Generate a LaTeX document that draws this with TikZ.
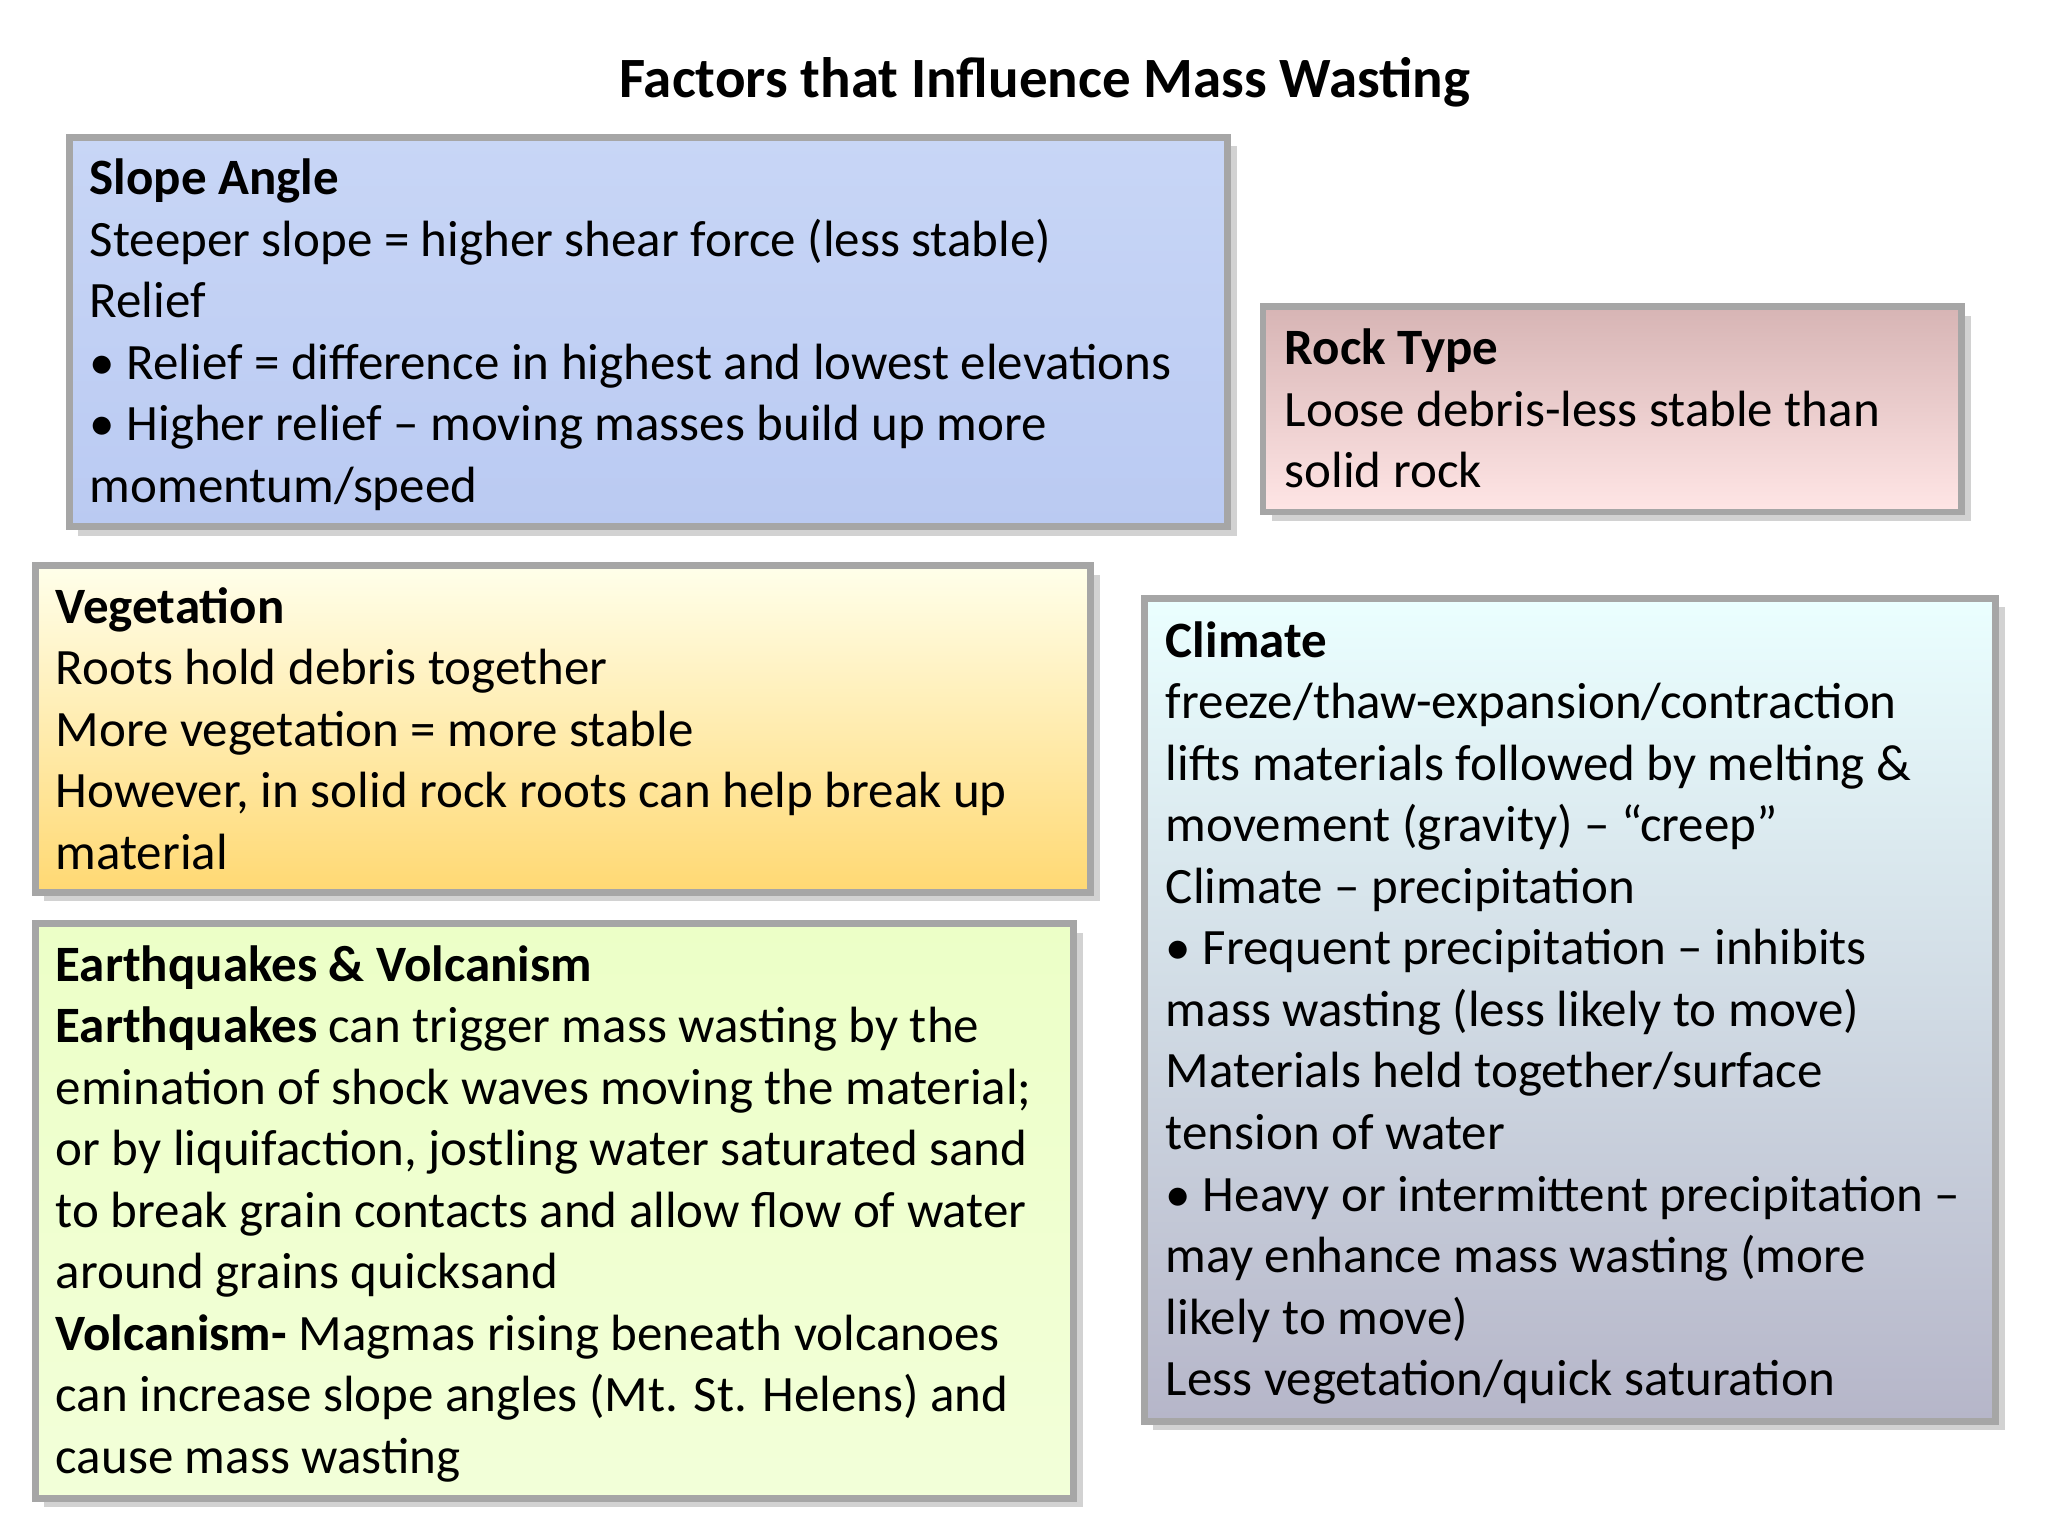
\documentclass[tikz,border=0pt]{standalone}
\usepackage{fontspec}
\setmainfont{Carlito}
\usetikzlibrary{shadows}
\definecolor{slopetop}{RGB}{200,214,246}
\definecolor{slopebot}{RGB}{186,202,242}
\tikzset{
  panel/.style={draw=gray!70, line width=1.5pt, drop shadow={shadow xshift=2pt, shadow yshift=-2pt, opacity=.35}},
  body/.style={anchor=north west, inner sep=0pt, align=left, font=\fontsize{11.1}{13.4}\selectfont},
}
\begin{document}
\begin{tikzpicture}
  \tikzset{x={(0.01cm, 0cm)}, y={(0cm, -0.01cm)}}
  \useasboundingbox[fill=white] (0,0) rectangle (1568,1176);
  \node (title) at (800,63) {\fontsize{12.4}{15}\selectfont\bfseries Factors that Influence Mass Wasting};
  % panels
  \draw[panel, top color=slopetop, bottom color=slopebot] (53,105) rectangle (940,403);
  \draw[panel, top color=red!30!gray!45, bottom color=red!10] (967,235) rectangle (1502,392);
  \draw[panel, top color=yellow!8, bottom color=yellow!45!orange!55] (27,433) rectangle (835,683);
  \draw[panel, top color=green!12!lime!22, bottom color=green!10!lime!15] (27,707) rectangle (822,1147);
  \draw[panel, top color=cyan!8, bottom color=blue!15!gray!50] (876,458) rectangle (1528,1088);
  % texts
  \node[body] (slope) at (68,121) {\textbf{Slope Angle}\\
    Steeper slope = higher shear force (less stable)\\
    Relief\\
    • Relief = difference in highest and lowest elevations\\
    • Higher relief – moving masses build up more\\
    momentum/speed};
  \node[body] (rock) at (983,251) {\textbf{Rock Type}\\
    Loose debris-less stable than\\
    solid rock};
  \node[body] (veg) at (42,449) {\textbf{Vegetation}\\
    Roots hold debris together\\
    More vegetation = more stable\\
    However, in solid rock roots can help break up\\
    material};
  \node[body] (quake) at (42,723) {\textbf{Earthquakes \& Volcanism}\\
    \textbf{Earthquakes} can trigger mass wasting by the\\
    emination of shock waves moving the material;\\
    or by liquifaction, jostling water saturated sand\\
    to break grain contacts and allow flow of water\\
    around grains quicksand\\
    \textbf{Volcanism-} Magmas rising beneath volcanoes\\
    can increase slope angles (Mt. St. Helens) and\\
    cause mass wasting};
  \node[body] (climate) at (892,475) {\textbf{Climate}\\
    freeze/thaw-expansion/contraction\\
    lifts materials followed by melting \&\\
    movement (gravity) – “creep”\\
    Climate – precipitation\\
    • Frequent precipitation – inhibits\\
    mass wasting (less likely to move)\\
    Materials held together/surface\\
    tension of water\\
    • Heavy or intermittent precipitation –\\
    may enhance mass wasting (more\\
    likely to move)\\
    Less vegetation/quick saturation};
\end{tikzpicture}
\end{document}
